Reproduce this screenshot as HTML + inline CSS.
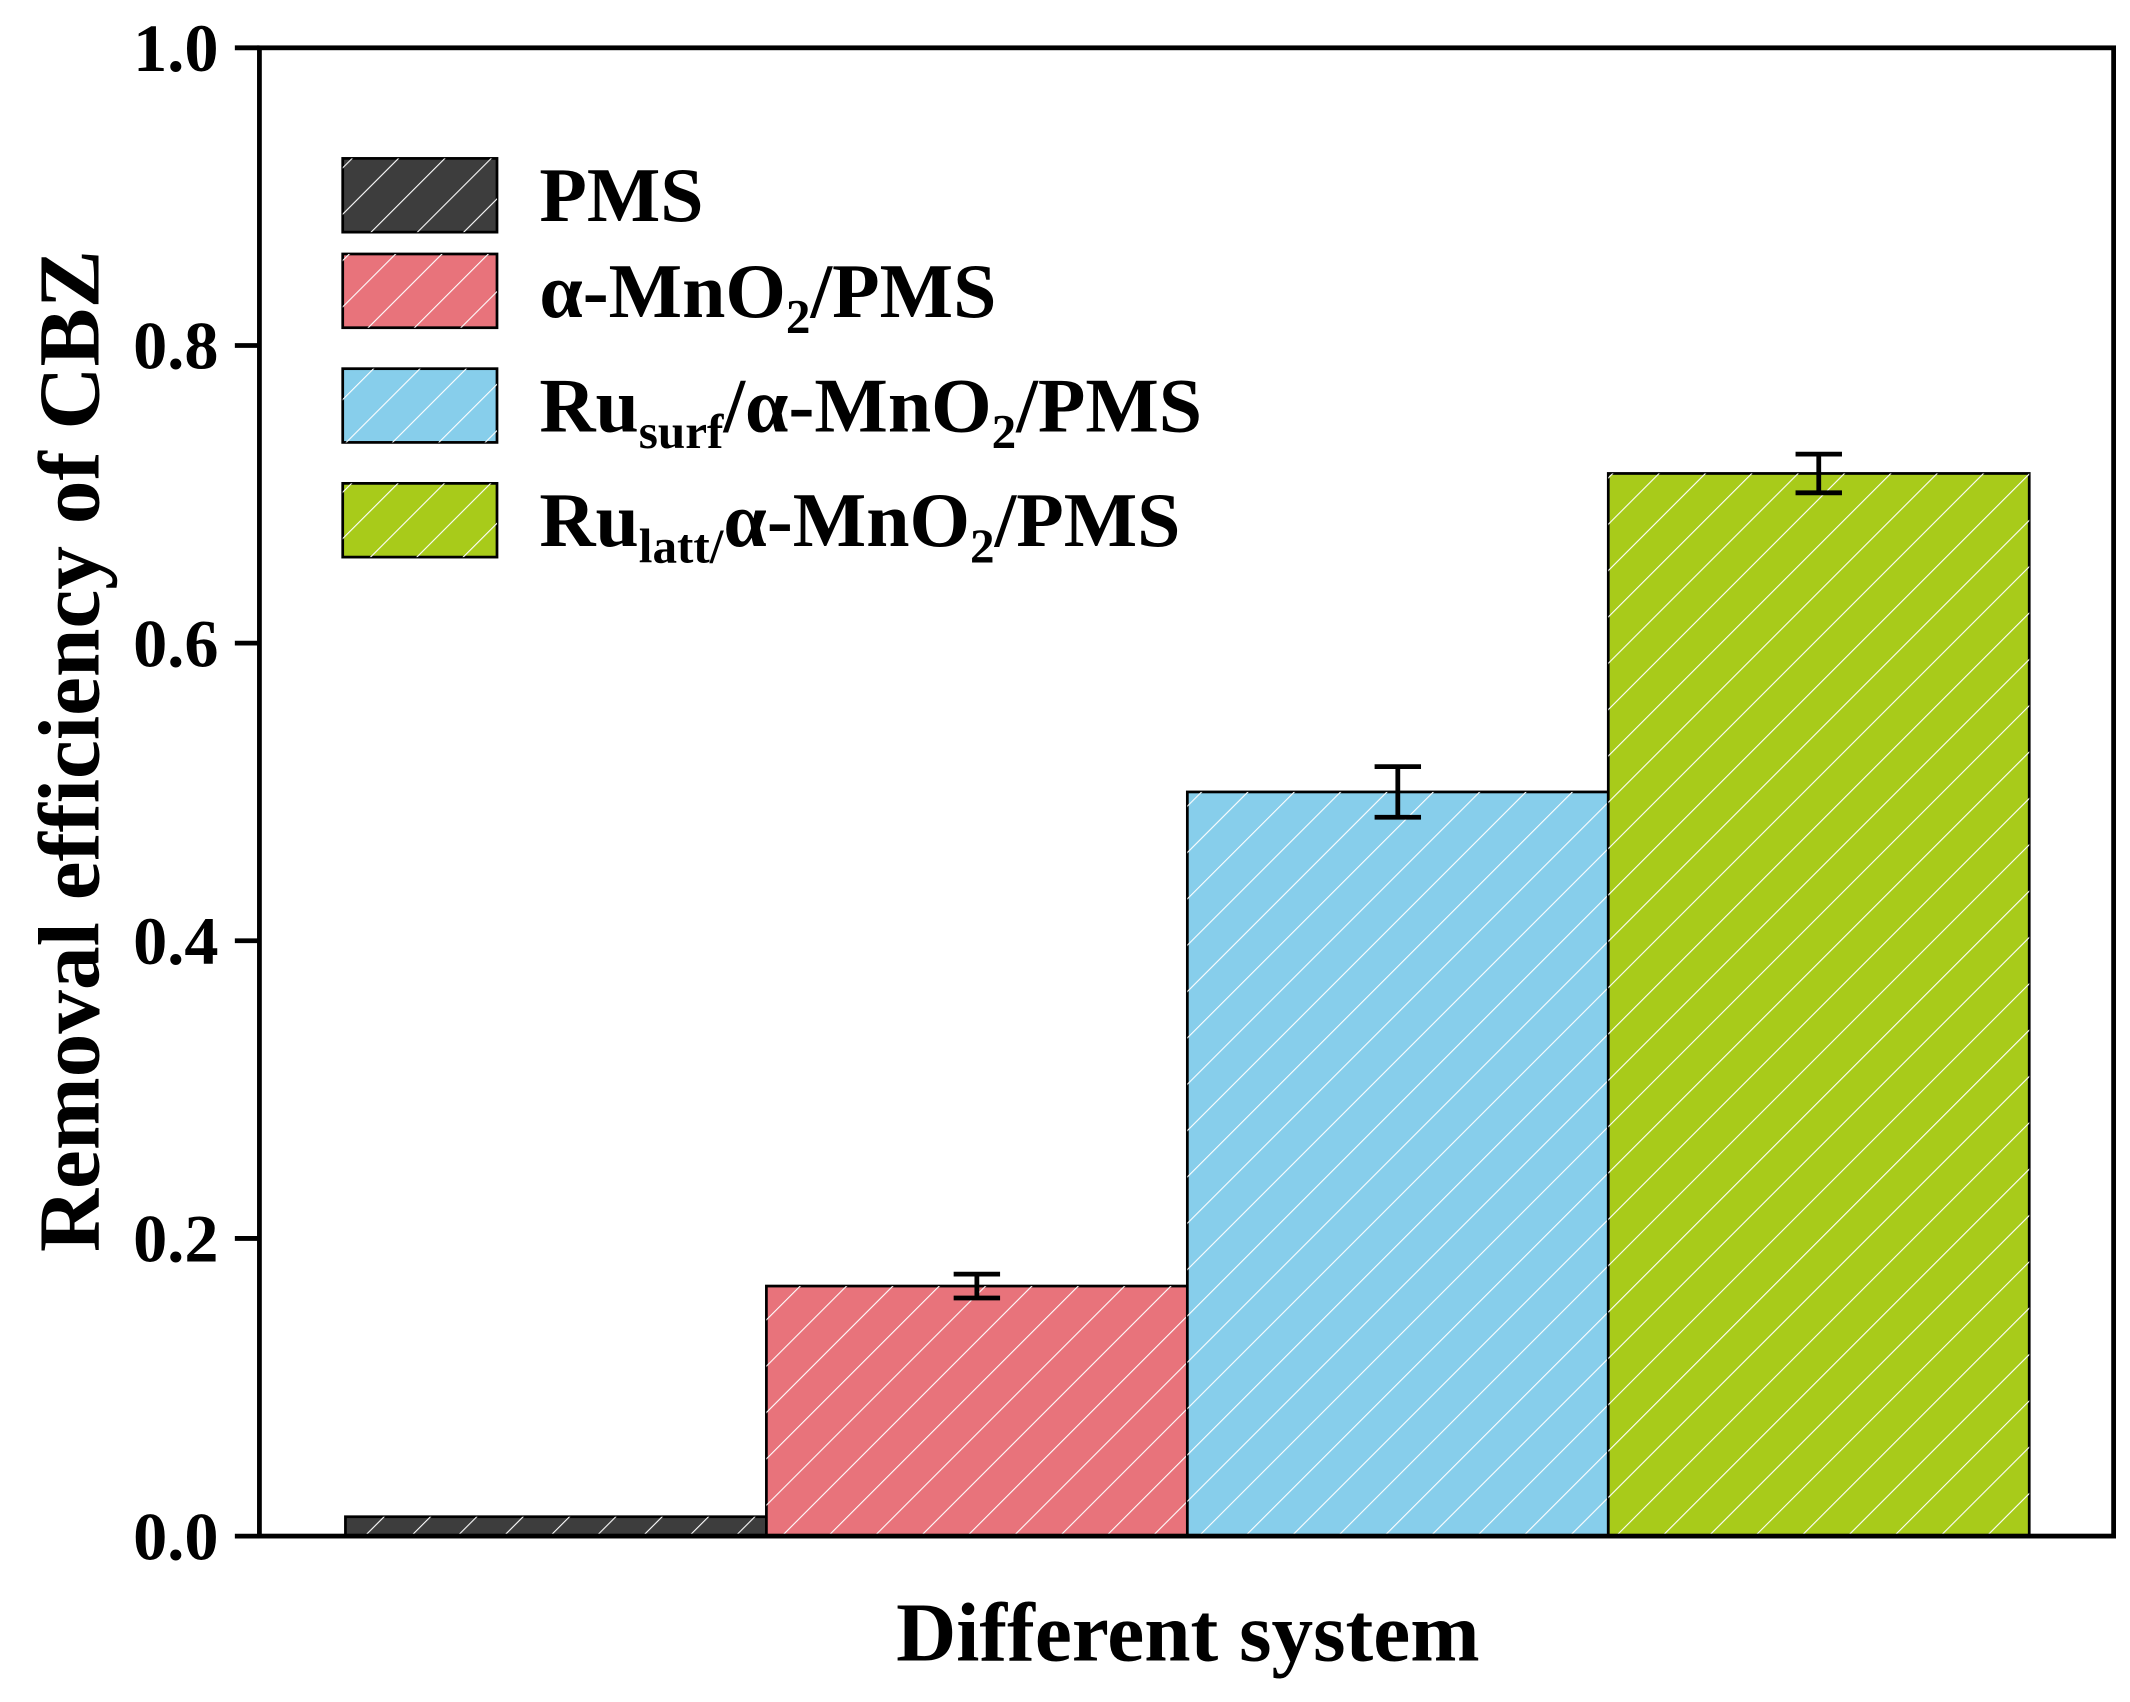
<!DOCTYPE html>
<html><head><meta charset="utf-8"><style>
html,body{margin:0;padding:0;background:#fff;}
svg{display:block;font-family:"Liberation Serif",serif;font-weight:bold;}
</style></head><body>
<svg id="chart" width="2130" height="1702" viewBox="0 0 1560 1246.5" xmlns="http://www.w3.org/2000/svg">
<defs>
<pattern id="hatch" patternUnits="userSpaceOnUse" width="24" height="24" patternTransform="rotate(45)">
<line x1="0" y1="0" x2="0" y2="24" stroke="#fff" stroke-width="1.6"/>
</pattern>
</defs>
<g id="plot"></g>
<text transform="translate(72,550) rotate(-90)" text-anchor="middle" font-size="64">Removal efficiency of CBZ</text>
<text x="870" y="1216" text-anchor="middle" font-size="61">Different system</text>
</svg>
<script>
const categories = ["PMS", "α-MnO2/PMS", "Ru_surf/α-MnO2/PMS", "Ru_latt/α-MnO2/PMS"];
const values = [0.013, 0.168, 0.500, 0.714];
const errors = [0, 0.008, 0.017, 0.013];
const colors = ["#3d3d3d", "#e8737b", "#87ceeb", "#a8cb1a"];
const yTicks = [0, 0.2, 0.4, 0.6, 0.8, 1.0];
const yTickLabels = ["0.0", "0.2", "0.4", "0.6", "0.8", "1.0"];

const NS = "http://www.w3.org/2000/svg";
const g = document.getElementById("plot");
const L = 190, R = 1548, T = 35, B = 1125;
const y = v => B - v * (B - T);
const barStart = 253, barW = 308.3;
const x = i => barStart + i * barW;
function mk(tag, attrs, parent) {
  const e = document.createElementNS(NS, tag);
  for (const k in attrs) e.setAttribute(k, attrs[k]);
  (parent || g).appendChild(e);
  return e;
}
values.forEach((v, i) => {
  const r = mk("rect", {x: x(i), y: y(v), width: barW, height: B - y(v), fill: colors[i], stroke: "#000", "stroke-width": 2});
  
  
  const h = mk("rect", {x: x(i), y: y(v), width: barW, height: B - y(v), fill: "url(#hatch)"});
  
  
  if (errors[i] > 0) {
    const cx = x(i) + barW / 2;
    const eg = mk("g", {stroke: "#000", "stroke-width": 3.5});
    
    
    mk("line", {x1: cx, x2: cx, y1: y(v - errors[i]), y2: y(v + errors[i])}, eg);
    mk("line", {x1: cx - 17, x2: cx + 17, y1: y(v - errors[i]), y2: y(v - errors[i])}, eg);
    mk("line", {x1: cx - 17, x2: cx + 17, y1: y(v + errors[i]), y2: y(v + errors[i])}, eg);
  }
});
const fr = mk("rect", {x: L, y: T, width: R - L, height: B - T, fill: "none", stroke: "#000", "stroke-width": 3.5});


yTicks.forEach((t, i) => {
  const tl = mk("line", {x1: L - 18, x2: L, y1: y(t), y2: y(t), stroke: "#000", "stroke-width": 3.5});
  
  
  const tx = mk("text", {x: L - 30, y: y(t) + 17, "text-anchor": "end", "font-size": 50});
  tx.textContent = yTickLabels[i];
  
  
});
const legY = [116, 186, 270, 354];
const legLabels = [
  'PMS',
  'α-MnO<tspan font-size="36" dy="12">2</tspan><tspan dy="-12">/PMS</tspan>',
  'Ru<tspan font-size="36" dy="12">surf</tspan><tspan dy="-12">/α-MnO</tspan><tspan font-size="36" dy="12">2</tspan><tspan dy="-12">/PMS</tspan>',
  'Ru<tspan font-size="36" dy="12">latt/</tspan><tspan dy="-12">α-MnO</tspan><tspan font-size="36" dy="12">2</tspan><tspan dy="-12">/PMS</tspan>'
];
categories.forEach((c, i) => {
  const lg = mk("g", {});
  
  
  mk("rect", {x: 251, y: legY[i], width: 113, height: 54, fill: colors[i], stroke: "#000", "stroke-width": 2}, lg);
  mk("rect", {x: 251, y: legY[i], width: 113, height: 54, fill: "url(#hatch)"}, lg);
  const t = mk("text", {x: 395, y: legY[i] + 46, "font-size": 57}, lg);
  t.innerHTML = legLabels[i];
});
</script>
</body></html>
